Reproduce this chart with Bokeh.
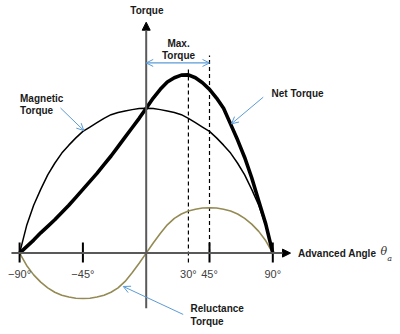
from bokeh.plotting import figure
from bokeh.models import Range1d, Arrow, NormalHead, OpenHead, Label, ColumnDataSource
from bokeh.embed import file_html
from bokeh.resources import INLINE
from bokeh.core.properties import value

# Advanced angle (degrees) and normalised torque curves
angle = [-90, -85, -80, -75, -70, -65, -60, -55, -50, -45, -40, -35, -30, -25, -20, -15, -10, -5,
         0, 5, 10, 15, 20, 25, 30, 35, 40, 45, 50, 55, 60, 65, 70, 75, 80, 85, 90]

magnetic = [0.0, 0.19, 0.33, 0.44, 0.54, 0.62, 0.69, 0.745, 0.795, 0.84, 0.87, 0.90, 0.93, 0.955, 0.97, 0.98, 0.99, 0.997,
            1.0, 0.997, 0.99, 0.98, 0.97, 0.955, 0.93, 0.90, 0.87, 0.84, 0.795, 0.745, 0.69, 0.62, 0.54, 0.44, 0.33, 0.19, 0.0]

reluctance = [0.0, -0.085, -0.15, -0.2, -0.24, -0.27, -0.29, -0.303, -0.311, -0.313, -0.311, -0.303, -0.29, -0.27, -0.24, -0.195, -0.135, -0.07,
              0.0, 0.07, 0.135, 0.195, 0.24, 0.27, 0.29, 0.303, 0.311, 0.313, 0.311, 0.303, 0.29, 0.27, 0.24, 0.2, 0.15, 0.085, 0.0]

net = [0.0, 0.045, 0.09, 0.14, 0.185, 0.23, 0.28, 0.33, 0.385, 0.44, 0.495, 0.55, 0.61, 0.67, 0.735, 0.80, 0.865, 0.93,
       1.0, 1.07, 1.13, 1.18, 1.21, 1.228, 1.23, 1.21, 1.175, 1.13, 1.07, 1.0, 0.89, 0.78, 0.66, 0.52, 0.36, 0.20, 0.0]

tick_angles = [-90, -45, 45, 90]
label_angles = [-90, -45, 30, 45, 90]
label_texts = ["\u221290\u00b0", "\u221245\u00b0", "30\u00b0", "45\u00b0", "90\u00b0"]

max_torque_angle = 30
max_torque_span = [0, 45]

AXIS = "#595959"
BLUE = "#5B9BD5"
OLIVE = "#948A54"
TEXT = "#1a1a1a"
BOLD_FONT = "Liberation Sans"

p = figure(width=400, height=334, x_range=Range1d(-103.58, 180.78), y_range=Range1d(-0.5614, 1.7428),
           output_backend="svg", toolbar_location=None, min_border=0,
           x_axis_type=None, y_axis_type=None)
p.grid.visible = False
p.outline_line_color = None
p.background_fill_color = "white"
p.border_fill_color = "white"

# hand-drawn axes with arrow heads
p.add_layout(Arrow(end=NormalHead(size=8, fill_color="black", line_color="black", line_width=1),
                   x_start=-95.8, y_start=0, x_end=102.6, y_end=0,
                   line_color=AXIS, line_width=2))
p.add_layout(Arrow(end=NormalHead(size=8, fill_color="black", line_color="black", line_width=1),
                   x_start=0, y_start=-0.381, x_end=0, y_end=1.593,
                   line_color=AXIS, line_width=2))

# dashed guides at the maximum-torque angle and at 45 degrees
p.segment(x0=[max_torque_angle, 45], y0=[-0.064, 0.0], x1=[max_torque_angle, 45], y1=[1.266, 1.363],
          line_color="black", line_width=1.2, line_dash="4 3")

# torque curves
p.line(angle, reluctance, line_color=OLIVE, line_width=1.6)
p.line(angle, magnetic, line_color="black", line_width=1.5)
p.line(angle, net, line_color="black", line_width=3.6, line_join="round")

# tick marks
p.segment(x0=tick_angles, y0=[0.074] * len(tick_angles), x1=tick_angles, y1=[-0.064] * len(tick_angles),
          line_color="black", line_width=2)

# tick labels
tick_src = ColumnDataSource(dict(x=label_angles, y=[-0.143] * len(label_angles), t=label_texts))
p.text(x="x", y="y", text="t", source=tick_src, text_align="center", text_baseline="middle",
       text_font=value("Liberation Sans"), text_font_size="11px", text_color="#404040")


def label(x, y, text, align="left", size="10px", bold=True, font=BOLD_FONT, color=TEXT, italic=False):
    style = "bold" if bold else ("italic" if italic else "normal")
    p.add_layout(Label(x=x, y=y, text=text, text_align=align, text_baseline="middle",
                       text_font=font, text_font_size=size, text_font_style=style,
                       text_color=color))


label(0.5, 1.674, "Torque", align="center")
label(23, 1.446, "Max.", align="center")
label(23, 1.363, "Torque", align="center")
label(-89.7, 1.067, "Magnetic")
label(-89.7, 0.981, "Torque")
label(89.1, 1.101, "Net Torque")
label(31.5, -0.385, "Reluctance")
label(31.5, -0.471, "Torque")
label(107.9, 0.0, "Advanced Angle")
label(166.5, 0.01, "\u03b8", size="11px", bold=False, italic=True, font="DejaVu Serif", color="#333333")
label(171.4, -0.035, "a", size="8px", bold=False, italic=True, font="DejaVu Serif", color="#333333")

# callout arrows
blue_head = dict(size=7, line_color=BLUE, line_width=1)
p.add_layout(Arrow(start=OpenHead(**blue_head), end=OpenHead(**blue_head),
                   x_start=max_torque_span[0], y_start=1.312, x_end=max_torque_span[1], y_end=1.312,
                   line_color=BLUE, line_width=1.2))
p.add_layout(Arrow(end=OpenHead(**blue_head), x_start=-60.9, y_start=1.001, x_end=-44.4, y_end=0.846,
                   line_color=BLUE, line_width=1))
p.add_layout(Arrow(end=OpenHead(**blue_head), x_start=83.2, y_start=1.076, x_end=60.6, y_end=0.892,
                   line_color=BLUE, line_width=1))
p.add_layout(Arrow(end=OpenHead(**blue_head), x_start=26.3, y_start=-0.423, x_end=-16.3, y_end=-0.230,
                   line_color=BLUE, line_width=1))

open("out.html", "w").write(file_html(p, INLINE))
